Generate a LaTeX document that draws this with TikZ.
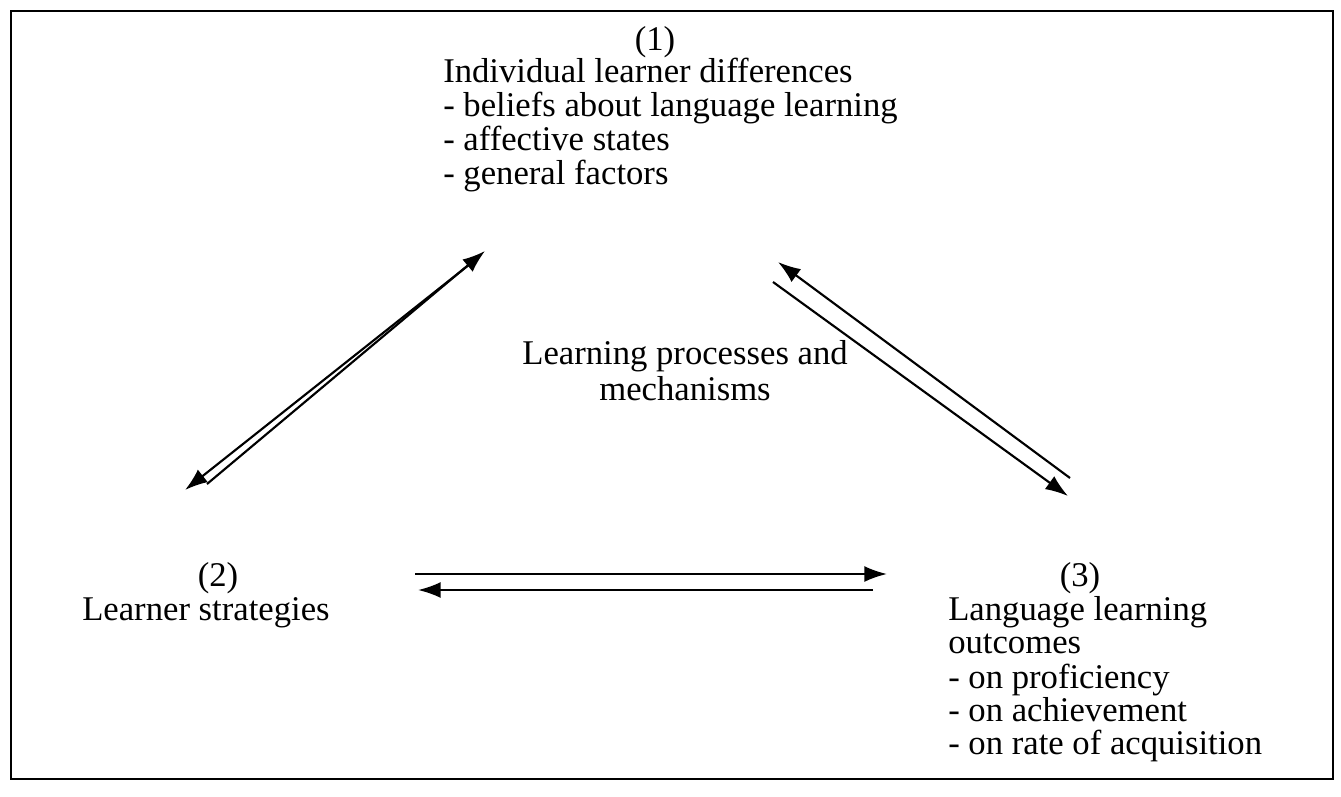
\documentclass[tikz,border=0pt]{standalone}
\usepackage{fontspec}
\setmainfont{Liberation Serif}
\usetikzlibrary{arrows.meta}
\begin{document}
\begin{tikzpicture}[x=0.75pt,y=-0.75pt,
  txt/.style={anchor=base west,inner sep=0pt,font=\fontsize{26}{30}\selectfont},
  ctr/.style={anchor=base,inner sep=0pt,font=\fontsize{26}{30}\selectfont},
  arr/.style={line width=1.6pt,-{Latex[length=17pt,width=12pt]}}]
\useasboundingbox (0,0) rectangle (1341,796);
\node[draw,line width=1.8pt,minimum width=1322*0.75pt,minimum height=768*0.75pt,anchor=north west,inner sep=0pt] (frame) at (10,10) {};
\node[ctr] (n1) at (655,50) {(1)};
\node[txt] (a1) at (443,82) {Individual learner differences};
\node[txt] (a2) at (443,116) {- beliefs about language learning};
\node[txt] (a3) at (443,150) {- affective states};
\node[txt] (a4) at (443,184) {- general factors};
\node[ctr] (c1) at (685,364) {Learning processes and};
\node[ctr] (c2) at (685,400) {mechanisms};
\node[ctr] (n2) at (218,586) {(2)};
\node[txt] (b1) at (82,620) {Learner strategies};
\node[ctr] (n3) at (1080,586) {(3)};
\node[txt] (d1) at (948,620) {Language learning};
\node[txt] (d2) at (948,653) {outcomes};
\node[txt] (d3) at (948,688) {- on proficiency};
\node[txt] (d4) at (948,721) {- on achievement};
\node[txt] (d5) at (948,754) {- on rate of acquisition};
\coordinate (p1) at (470,264); \coordinate (p2) at (185,490);
\coordinate (p3) at (207,484); \coordinate (p4) at (485,251);
\coordinate (q1) at (1070,478); \coordinate (q2) at (778,262);
\coordinate (q3) at (773,282); \coordinate (q4) at (1068,496);
\coordinate (r1) at (415,574); \coordinate (r2) at (887,574);
\coordinate (r3) at (873,590); \coordinate (r4) at (418,590);
\draw[arr] (p1) -- (p2);
\draw[arr] (p3) -- (p4);
\draw[arr] (q1) -- (q2);
\draw[arr] (q3) -- (q4);
\draw[arr] (r1) -- (r2);
\draw[arr] (r3) -- (r4);
\end{tikzpicture}
\end{document}
